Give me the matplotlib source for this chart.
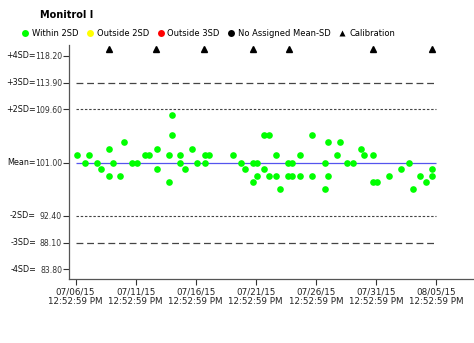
import numpy as np
import matplotlib
matplotlib.use("Agg")
import matplotlib.pyplot as plt
from matplotlib.lines import Line2D

# QC points: days since 07/06/15 12:52:59 PM, measured value
days = [0.11, 0.78, 1.13, 1.78, 2.11, 2.78, 2.78, 3.11, 3.72, 4.07,
        4.73, 5.11, 5.76, 6.11, 6.78, 6.78, 7.76, 7.76, 8.04, 8.04,
        8.73, 8.73, 9.11, 9.72, 10.07, 10.76, 10.76, 11.09, 13.07, 13.78,
        14.13, 14.75, 14.75, 15.13, 15.13, 15.69, 15.69, 16.08, 16.08, 16.69,
        16.69, 17.05, 17.72, 17.72, 18.05, 18.05, 18.72, 18.72, 19.72, 19.72,
        20.78, 20.78, 21.05, 21.05, 21.75, 21.98, 22.63, 23.08, 23.75, 24.04,
        24.75, 24.75, 25.11, 26.07, 27.11, 27.76, 28.08, 28.72, 29.15, 29.72,
        29.72]
values = [102.2, 101.0, 102.2, 101.0, 99.9, 103.2, 98.9, 101.0, 98.9, 104.3,
          101.0, 101.0, 102.2, 102.2, 103.2, 99.9, 102.2, 97.8, 108.7, 105.4,
          102.2, 101.0, 99.9, 103.2, 101.0, 102.2, 101.0, 102.2, 102.2, 101.0,
          99.9, 101.0, 97.8, 101.0, 98.9, 105.4, 99.9, 105.4, 98.9, 102.2,
          98.9, 96.8, 101.0, 98.9, 101.0, 98.9, 102.2, 98.9, 105.4, 98.9,
          101.0, 96.8, 104.3, 98.9, 102.2, 104.3, 101.0, 101.0, 103.2, 102.2,
          102.2, 97.8, 97.8, 98.9, 99.9, 101.0, 96.8, 98.9, 97.8, 99.9,
          98.9]

calib_days = [2.75, 6.7, 10.7, 14.75, 17.75, 24.75, 29.7]
calib_y = 119.3

mean = 101.00
sd_names = ["-4SD=", "-3SD=", "-2SD=", "Mean=", "+2SD=", "+3SD=", "+4SD="]
sd_values = [83.80, 88.10, 92.40, 101.00, 109.60, 113.90, 118.20]

tick_days = [0, 5, 10, 15, 20, 25, 30]
tick_labels = ["07/06/15", "07/11/15", "07/16/15", "07/21/15",
               "07/26/15", "07/31/15", "08/05/15"]
tick_time = "12:52:59 PM"

fig = plt.figure(figsize=(4.74, 3.43), dpi=100)
ax = fig.add_axes([0.1456, 0.1866, 0.8524, 0.6822])

# control limit lines
ax.hlines(mean, 0, 30, color="#5555ee", lw=0.9, zorder=1)
ax.hlines([sd_values[2], sd_values[4]], 0, 30, color="#444444", lw=0.8,
          linestyles=(0, (2.2, 1.6)), zorder=1)
ax.hlines([sd_values[1], sd_values[5]], 0, 30, color="#444444", lw=0.9,
          linestyles=(0, (5.5, 3)), zorder=1)

ax.plot(days, values, "o", color="#00ff00", ms=4.8, mec="none", zorder=3)
ax.plot(calib_days, [calib_y] * len(calib_days), "^", color="black", ms=4.2,
        zorder=3, clip_on=False)

ax.set_xlim(-0.55, 33.1)
ax.set_ylim(82.24, 119.97)

ax.set_yticks(sd_values)
ax.set_yticklabels([f"{v:.2f}" for v in sd_values], fontsize=5.6,
                   color="#333333")
# SD names to the left of the numbers
for n, v in zip(sd_names, sd_values):
    ax.annotate(n, xy=(0, v), xycoords=("axes fraction", "data"),
                xytext=(-33, 0), textcoords="offset pixels",
                ha="right", va="center", fontsize=5.8, color="#111111")

ax.set_xticks(tick_days)
ax.set_xticklabels([f"{d}\n{tick_time}" for d in tick_labels],
                   fontsize=6.3, color="#222222", linespacing=1.1)
ax.tick_params(axis="y", length=4, width=0.8, pad=1, colors="#333333",
               labelcolor="#333333")
ax.tick_params(axis="x", length=4, width=0.8, pad=2, colors="#333333",
               labelcolor="#222222")

for s in ["top", "right"]:
    ax.spines[s].set_visible(False)
for s in ["left", "bottom"]:
    ax.spines[s].set_color("#555555")
    ax.spines[s].set_linewidth(0.9)

fig.text(40 / 474, 1 - 15 / 343, "Monitrol I", fontsize=7, fontweight="bold",
         va="center", ha="left")

handles = [
    Line2D([], [], marker="o", ls="none", color="#00ff00", ms=5, mec="none"),
    Line2D([], [], marker="o", ls="none", color="#ffff00", ms=5, mec="none"),
    Line2D([], [], marker="o", ls="none", color="#ff0000", ms=5, mec="none"),
    Line2D([], [], marker="o", ls="none", color="black", ms=5, mec="none"),
    Line2D([], [], marker="^", ls="none", color="black", ms=5, mec="none"),
]
labels = ["Within 2SD", "Outside 2SD", "Outside 3SD",
          "No Assigned Mean-SD", "Calibration"]
fig.legend(handles, labels, loc="center left",
           bbox_to_anchor=(21 / 474, 1 - 33 / 343), ncol=5, frameon=False,
           fontsize=6, handlelength=1.0, handletextpad=0.3,
           columnspacing=0.9, borderpad=0, borderaxespad=0)

fig.savefig("out.png", dpi=100)
